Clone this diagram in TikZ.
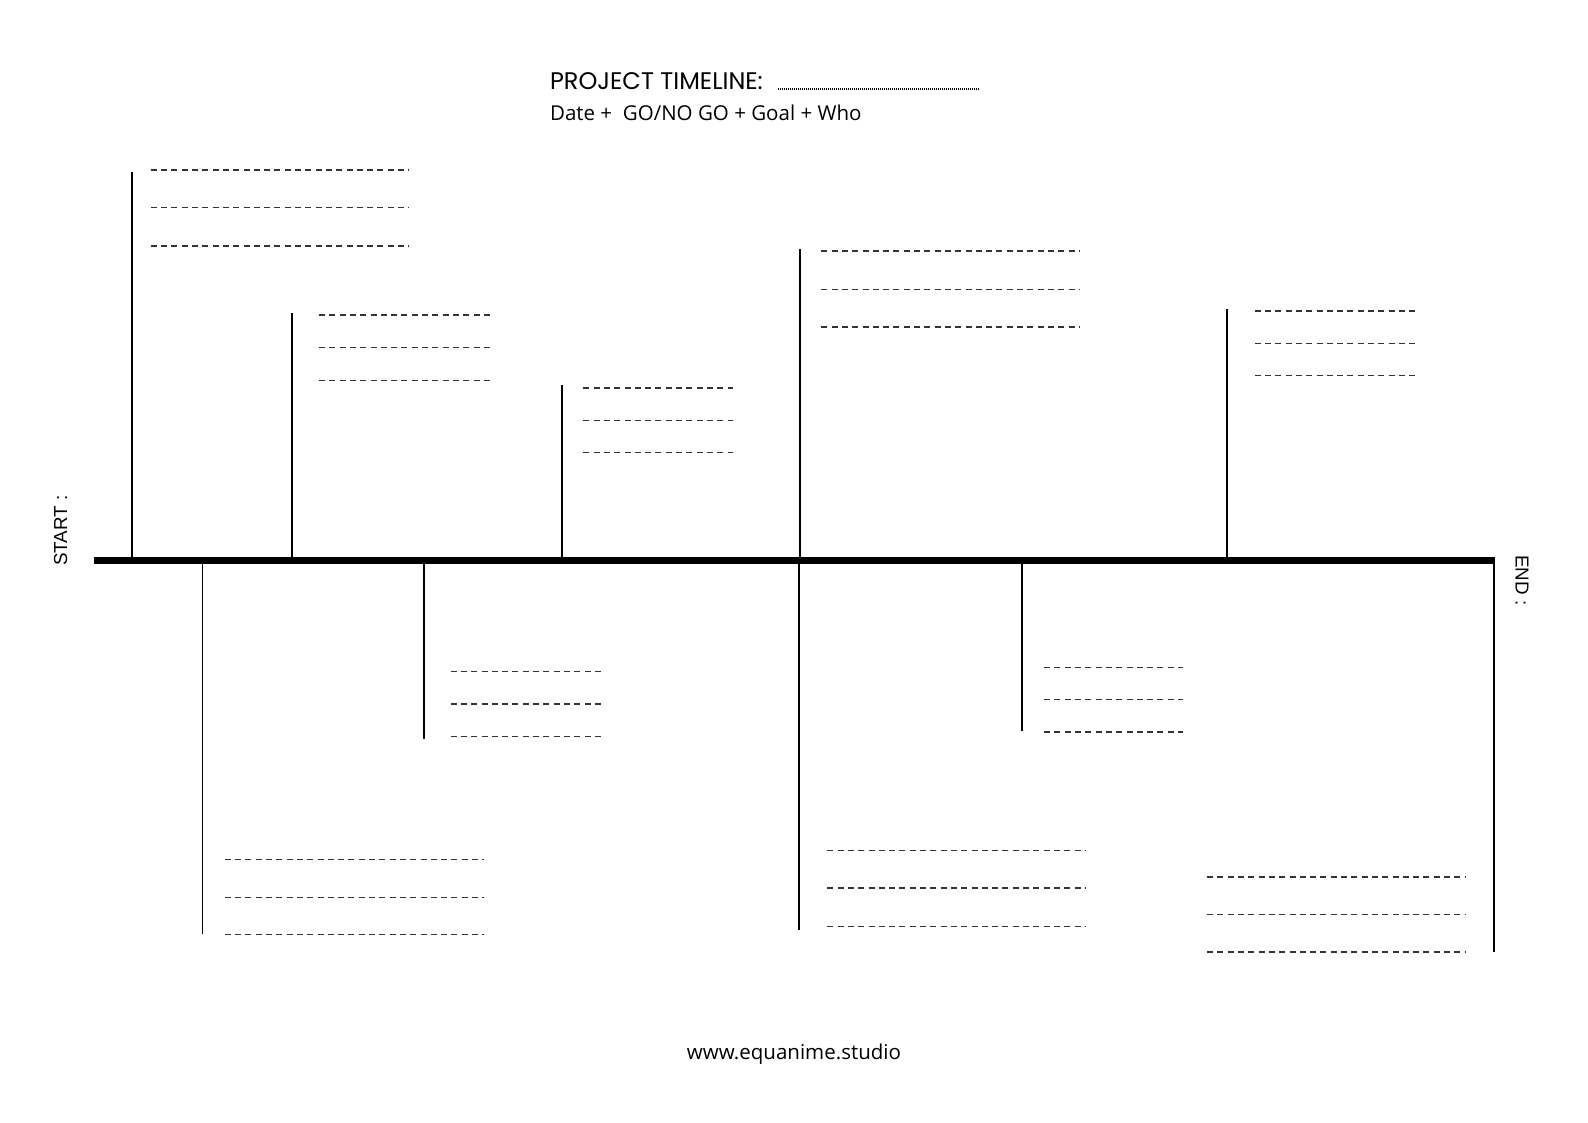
\documentclass[tikz,border=0pt]{standalone}
\usepackage{fontspec}
\setmainfont{Open Sans}
\newfontfamily\titlefont{Poppins}
\newfontfamily\labelfont{Liberation Sans}
\begin{document}
\begin{tikzpicture}[x=1.0127pt,y=-1.0127pt,
  stem/.style={line width=1.9pt},
  axisline/.style={line width=7pt},
  writeline/.style={line width=1.4pt, black!80, dash pattern=on 6pt off 4.3pt},
  dotline/.style={line width=1.6pt, dash pattern=on 0.9pt off 1.1pt},
  heading/.style={anchor=base west, inner sep=0pt, font=\titlefont\fontsize{24}{28}\selectfont},
  subheading/.style={anchor=base west, inner sep=0pt, font=\fontsize{20.5}{24}\selectfont},
  sidelabel/.style={inner sep=0pt, font=\labelfont\fontsize{18.8}{20}\selectfont},
]
\useasboundingbox (0pt,0pt) rectangle (1588pt,-1123pt);
\fill[white] (0pt,0pt) rectangle (1588pt,-1123pt);

% title
\node[heading] (title) at (543,88) {PROJECT TIMELINE:};
\coordinate (dotA) at (768,88);
\coordinate (dotB) at (966,88);
\draw[dotline] (dotA) -- (dotB);
\node[subheading] (sub) at (543,119) {Date +\ \ GO/NO GO + Goal + Who};

% axis
\coordinate (A0) at (93,553);
\coordinate (A1) at (1476,553);
\draw[axisline] (A0) -- (A1);

\node[sidelabel, rotate=90] (start) at (60,524) {START :};
\node[sidelabel, rotate=-90] (end) at (1503,573) {END :};

% milestones
\foreach \n/\x/\ye/\la/\lb/\ya/\yb/\yc in {
  u1/130/170/149/404/168/205/243,
  u2/288/309/315/484/311/343/376,
  u3/555/380/576/724/383/415/447,
  u4/790/246/811/1066/248/286/323,
  u5/1212/305/1239/1400/307/339/371,
  d1/200/922/222/478/849/886/923,
  d2/419/730/445/593/663/695/727,
  d3/789/918/817/1072/840/877/915,
  d4/1009/722/1031/1168/659/691/723,
  d5/1475/940/1192/1447/866/903/940}{
  \coordinate (\n b) at (\x,553);
  \coordinate (\n e) at (\x,\ye);
  \draw[stem] (\n b) -- (\n e);
  \foreach \yy in {\ya,\yb,\yc}{
    \draw[writeline] (\la,\yy) -- (\lb,\yy);
  }
}

% footer
\node[anchor=base, inner sep=0pt, font=\fontsize{20.5}{24}\selectfont] (web) at (784,1046) {www.equanime.studio};
\end{tikzpicture}
\end{document}
